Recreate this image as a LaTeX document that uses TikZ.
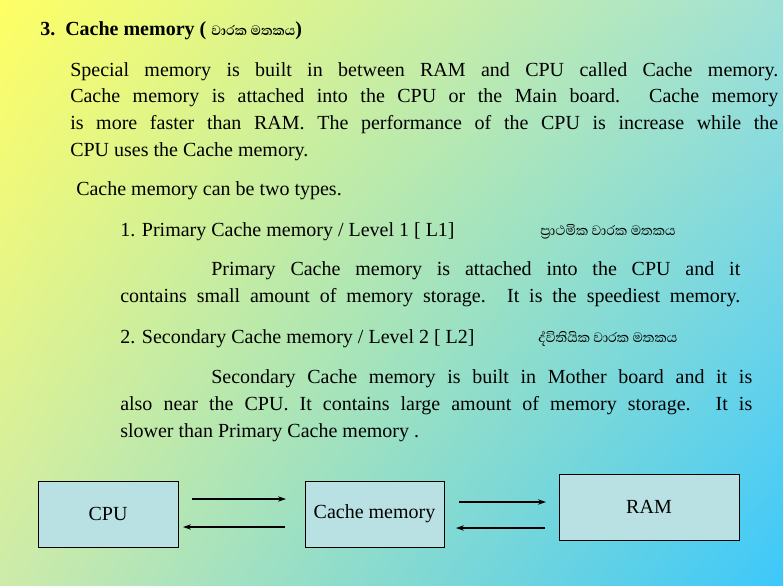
\documentclass[tikz,border=0pt]{standalone}
\usepackage{fontspec}
\setmainfont{Liberation Serif}
\newfontfamily\sinhf[Script=Sinhala]{Abhaya Libre}
\usetikzlibrary{arrows.meta,shadings}
\definecolor{bxfill}{HTML}{B9E0E3}
\definecolor{cul}{RGB}{255,255,100}
\definecolor{cur}{RGB}{160,225,215}
\definecolor{cll}{RGB}{205,235,170}
\definecolor{clr}{RGB}{60,200,250}
\newcommand{\jline}[2]{\parbox{#1}{\parfillskip=0pt\relax #2}}
\begin{document}
\begin{tikzpicture}[x=0.75pt,y=-0.75pt,
  txt/.style={anchor=west,inner sep=0pt,font=\fontsize{15}{18}\selectfont},
  sin/.style={anchor=west,inner sep=0pt,font=\fontsize{13}{16}\selectfont\sinhf},
  bx/.style={draw=black,fill=bxfill,line width=0.6pt,inner sep=0pt,font=\fontsize{15}{18}\selectfont},
  arr/.style={-{Stealth[length=6pt,width=4pt]},line width=0.8pt}]
\useasboundingbox (0,0) rectangle (783,586);
\shade[upper left=cul,upper right=cur,lower left=cll,lower right=clr]
  (0,0) rectangle (783,586);
\node[txt,font=\fontsize{15}{18}\selectfont\bfseries] (title) at (40,31) {3.\ \ Cache memory ( {\sinhf\fontsize{13}{16}\selectfont\bfseries වාරක මතකය})};
\node[txt] (p1a) at (70,72) {\jline{531pt}{Special memory is built in between RAM and CPU called Cache memory.}};
\node[txt] (p1b) at (70,98) {\jline{531pt}{Cache memory is attached into the CPU or the Main board. Cache memory}};
\node[txt] (p1c) at (70,125) {\jline{531pt}{is more faster than RAM. The performance of the CPU is increase while the}};
\node[txt] (p1d) at (70,152) {CPU uses the Cache memory.};
\node[txt] (types) at (76,191) {Cache memory can be two types.};
\node[txt] (l1) at (120,232) {1. Primary Cache memory / Level 1 [ L1]};
\node[sin] (l1s) at (540,232) {ප්‍රාථමික වාරක මතකය};
\node[txt] (p2a) at (211,271) {\jline{396.75pt}{Primary Cache memory is attached into the CPU and it}};
\node[txt] (p2b) at (120,298) {\jline{465pt}{contains small amount of memory storage. It is the speediest memory.}};
\node[txt] (l2) at (120,339) {2. Secondary Cache memory / Level 2 [ L2]};
\node[sin] (l2s) at (538,339) {ද්විතියික වාරක මතකය};
\node[txt] (p3a) at (211,379) {\jline{405.75pt}{Secondary Cache memory is built in Mother board and it is}};
\node[txt] (p3b) at (120,406) {\jline{474pt}{also near the CPU. It contains large amount of memory storage. It is}};
\node[txt] (p3c) at (120,433) {slower than Primary Cache memory .};
\node[bx,minimum width=105pt,minimum height=49.5pt] (cpu) at (108,514) {CPU};
\node[bx,minimum width=104.25pt,minimum height=49.5pt] (cache) at (374.5,514) {Cache memory};
\node[bx,minimum width=135pt,minimum height=49.5pt] (ram) at (649,507) {RAM};
\coordinate (a1s) at (192,499); \coordinate (a1e) at (286,499);
\coordinate (a2s) at (285,527); \coordinate (a2e) at (183,527);
\coordinate (a3s) at (459,502); \coordinate (a3e) at (546,502);
\coordinate (a4s) at (545,528); \coordinate (a4e) at (456,528);
\draw[arr] (a1s) -- (a1e);
\draw[arr] (a2s) -- (a2e);
\draw[arr] (a3s) -- (a3e);
\draw[arr] (a4s) -- (a4e);
\end{tikzpicture}
\end{document}
